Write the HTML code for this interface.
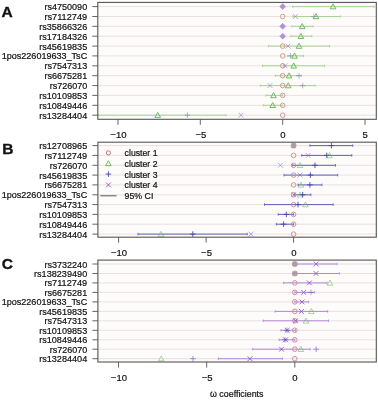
<!DOCTYPE html><html><head><meta charset="utf-8"><style>html,body{margin:0;padding:0;background:#fff;}svg{display:block;filter:blur(0.3px);}</style></head><body>
<svg width="378" height="400" viewBox="0 0 378 400" font-family='"Liberation Sans", sans-serif'>
<rect width="378" height="400" fill="#ffffff"/>
<rect x="97.8" y="2.4" width="278.5" height="116.89999999999999" fill="#fefcfb"/>
<line x1="97.8" y1="6.6" x2="376.3" y2="6.6" stroke="#e6dcdc" stroke-width="0.9"/>
<line x1="97.8" y1="16.5" x2="376.3" y2="16.5" stroke="#e6dcdc" stroke-width="0.9"/>
<line x1="97.8" y1="26.3" x2="376.3" y2="26.3" stroke="#e6dcdc" stroke-width="0.9"/>
<line x1="97.8" y1="36.2" x2="376.3" y2="36.2" stroke="#e6dcdc" stroke-width="0.9"/>
<line x1="97.8" y1="46.1" x2="376.3" y2="46.1" stroke="#e6dcdc" stroke-width="0.9"/>
<line x1="97.8" y1="55.9" x2="376.3" y2="55.9" stroke="#e6dcdc" stroke-width="0.9"/>
<line x1="97.8" y1="65.8" x2="376.3" y2="65.8" stroke="#e6dcdc" stroke-width="0.9"/>
<line x1="97.8" y1="75.7" x2="376.3" y2="75.7" stroke="#e6dcdc" stroke-width="0.9"/>
<line x1="97.8" y1="85.6" x2="376.3" y2="85.6" stroke="#e6dcdc" stroke-width="0.9"/>
<line x1="97.8" y1="95.4" x2="376.3" y2="95.4" stroke="#e6dcdc" stroke-width="0.9"/>
<line x1="97.8" y1="105.3" x2="376.3" y2="105.3" stroke="#e6dcdc" stroke-width="0.9"/>
<line x1="97.8" y1="115.2" x2="376.3" y2="115.2" stroke="#e6dcdc" stroke-width="0.9"/>
<line x1="292.7" y1="6.6" x2="374.0" y2="6.6" stroke="#a2d694" stroke-width="0.95"/>
<path d="M292.7,5.3 V7.9 M374.0,5.3 V7.9" stroke="#a2d694" stroke-width="0.8"/>
<path d="M279.7,6.6 L282.7,3.6 L285.7,6.6 L282.7,9.6 Z" fill="#ae92d6" stroke="#ae92d6" stroke-width="0.6" stroke-linejoin="round"/>
<path d="M330.2,8.8 L333.0,3.8 L335.8,8.8 Z" fill="none" stroke="#62b452" stroke-width="0.9" opacity="1"/>
<line x1="292.7" y1="16.5" x2="340.4" y2="16.5" stroke="#a2d694" stroke-width="0.95"/>
<path d="M292.7,15.2 V17.8 M340.4,15.2 V17.8" stroke="#a2d694" stroke-width="0.8"/>
<circle cx="282.7" cy="16.5" r="2.3" fill="none" stroke="#cc9c90" stroke-width="1.0" opacity="1"/>
<path d="M293.0,14.1 L297.8,18.9 M293.0,18.9 L297.8,14.1" stroke="#8c58cc" stroke-width="0.9" opacity="0.6"/>
<path d="M311.0,16.5 H316.6 M313.8,13.7 V19.3" stroke="#6a7aa0" stroke-width="0.9" opacity="0.5"/>
<path d="M313.2,18.7 L316.0,13.7 L318.8,18.7 Z" fill="none" stroke="#62b452" stroke-width="0.9" opacity="1"/>
<line x1="291.9" y1="26.3" x2="313.1" y2="26.3" stroke="#a2d694" stroke-width="0.95"/>
<path d="M291.9,25.0 V27.6 M313.1,25.0 V27.6" stroke="#a2d694" stroke-width="0.8"/>
<path d="M279.7,26.3 L282.7,23.3 L285.7,26.3 L282.7,29.3 Z" fill="#ae92d6" stroke="#ae92d6" stroke-width="0.6" stroke-linejoin="round"/>
<path d="M299.4,28.6 L302.2,23.5 L305.0,28.6 Z" fill="none" stroke="#62b452" stroke-width="0.9" opacity="1"/>
<line x1="290.8" y1="36.2" x2="311.8" y2="36.2" stroke="#a2d694" stroke-width="0.95"/>
<path d="M290.8,34.9 V37.5 M311.8,34.9 V37.5" stroke="#a2d694" stroke-width="0.8"/>
<path d="M279.7,36.2 L282.7,33.2 L285.7,36.2 L282.7,39.2 Z" fill="#ae92d6" stroke="#ae92d6" stroke-width="0.6" stroke-linejoin="round"/>
<path d="M298.1,38.5 L300.9,33.4 L303.7,38.5 Z" fill="none" stroke="#62b452" stroke-width="0.9" opacity="1"/>
<line x1="268.4" y1="46.1" x2="329.5" y2="46.1" stroke="#a2d694" stroke-width="0.95"/>
<path d="M268.4,44.8 V47.4 M329.5,44.8 V47.4" stroke="#a2d694" stroke-width="0.8"/>
<circle cx="282.7" cy="46.1" r="2.3" fill="none" stroke="#cc9c90" stroke-width="1.0" opacity="1"/>
<path d="M285.6,43.7 L290.4,48.5 M285.6,48.5 L290.4,43.7" stroke="#8c58cc" stroke-width="0.9" opacity="0.6"/>
<path d="M296.2,48.3 L299.0,43.3 L301.8,48.3 Z" fill="none" stroke="#62b452" stroke-width="0.9" opacity="1"/>
<line x1="287.7" y1="55.9" x2="303.5" y2="55.9" stroke="#a2d694" stroke-width="0.95"/>
<path d="M287.7,54.6 V57.2 M303.5,54.6 V57.2" stroke="#a2d694" stroke-width="0.8"/>
<circle cx="282.7" cy="55.9" r="2.3" fill="none" stroke="#cc9c90" stroke-width="1.0" opacity="1"/>
<path d="M287.7,55.9 H293.3 M290.5,53.1 V58.7" stroke="#6a7aa0" stroke-width="0.9" opacity="0.6"/>
<path d="M291.7,58.2 L294.5,53.1 L297.3,58.2 Z" fill="none" stroke="#62b452" stroke-width="0.9" opacity="1"/>
<line x1="262.6" y1="65.8" x2="324.5" y2="65.8" stroke="#a2d694" stroke-width="0.95"/>
<path d="M262.6,64.5 V67.1 M324.5,64.5 V67.1" stroke="#a2d694" stroke-width="0.8"/>
<circle cx="282.7" cy="65.8" r="2.3" fill="none" stroke="#cc9c90" stroke-width="1.0" opacity="1"/>
<path d="M282.6,63.4 L287.4,68.2 M282.6,68.2 L287.4,63.4" stroke="#8c58cc" stroke-width="0.9" opacity="0.6"/>
<path d="M290.9,68.1 L293.7,63.0 L296.5,68.1 Z" fill="none" stroke="#62b452" stroke-width="0.9" opacity="1"/>
<line x1="275.4" y1="75.7" x2="301.3" y2="75.7" stroke="#a2d694" stroke-width="0.95"/>
<path d="M275.4,74.4 V77.0 M301.3,74.4 V77.0" stroke="#a2d694" stroke-width="0.8"/>
<circle cx="282.7" cy="75.7" r="2.3" fill="none" stroke="#cc9c90" stroke-width="1.0" opacity="1"/>
<path d="M286.2,77.9 L289.0,72.9 L291.8,77.9 Z" fill="none" stroke="#62b452" stroke-width="0.9" opacity="1"/>
<path d="M296.2,75.7 H301.8 M299.0,72.9 V78.5" stroke="#6a7aa0" stroke-width="0.9" opacity="0.6"/>
<line x1="260.4" y1="85.6" x2="315.0" y2="85.6" stroke="#a2d694" stroke-width="0.95"/>
<path d="M260.4,84.3 V86.9 M315.0,84.3 V86.9" stroke="#a2d694" stroke-width="0.8"/>
<circle cx="282.7" cy="85.6" r="2.3" fill="none" stroke="#cc9c90" stroke-width="1.0" opacity="1"/>
<path d="M267.6,83.2 L272.4,88.0 M267.6,88.0 L272.4,83.2" stroke="#8c58cc" stroke-width="0.9" opacity="0.6"/>
<path d="M285.4,87.8 L288.2,82.8 L291.0,87.8 Z" fill="none" stroke="#62b452" stroke-width="0.9" opacity="1"/>
<path d="M299.9,85.6 H305.5 M302.7,82.8 V88.4" stroke="#6a7aa0" stroke-width="0.9" opacity="0.6"/>
<line x1="266.0" y1="95.4" x2="282.7" y2="95.4" stroke="#a2d694" stroke-width="0.95"/>
<path d="M266.0,94.1 V96.7 M282.7,94.1 V96.7" stroke="#a2d694" stroke-width="0.8"/>
<circle cx="282.7" cy="95.4" r="2.3" fill="none" stroke="#cc9c90" stroke-width="1.0" opacity="1"/>
<path d="M270.7,97.7 L273.5,92.6 L276.3,97.7 Z" fill="none" stroke="#62b452" stroke-width="0.9" opacity="1"/>
<line x1="263.2" y1="105.3" x2="282.7" y2="105.3" stroke="#a2d694" stroke-width="0.95"/>
<path d="M263.2,104.0 V106.6 M282.7,104.0 V106.6" stroke="#a2d694" stroke-width="0.8"/>
<circle cx="282.7" cy="105.3" r="2.3" fill="none" stroke="#cc9c90" stroke-width="1.0" opacity="1"/>
<path d="M269.9,107.5 L272.7,102.5 L275.5,107.5 Z" fill="none" stroke="#62b452" stroke-width="0.9" opacity="1"/>
<line x1="98.4" y1="115.2" x2="226.0" y2="115.2" stroke="#a2d694" stroke-width="0.95"/>
<path d="M98.4,113.9 V116.5 M226.0,113.9 V116.5" stroke="#a2d694" stroke-width="0.8"/>
<circle cx="282.7" cy="115.2" r="2.3" fill="none" stroke="#cc9c90" stroke-width="1.0" opacity="1"/>
<path d="M154.9,117.4 L157.7,112.4 L160.5,117.4 Z" fill="none" stroke="#62b452" stroke-width="0.9" opacity="1"/>
<path d="M184.6,115.2 H190.2 M187.4,112.4 V118.0" stroke="#6a7aa0" stroke-width="0.9" opacity="0.6"/>
<path d="M238.6,112.8 L243.4,117.6 M238.6,117.6 L243.4,112.8" stroke="#8c58cc" stroke-width="0.9" opacity="0.6"/>
<rect x="97.8" y="2.4" width="278.5" height="116.89999999999999" fill="none" stroke="#555555" stroke-width="1.1"/>
<line x1="92.3" y1="6.6" x2="97.8" y2="6.6" stroke="#555555" stroke-width="0.9"/>
<text x="87.2" y="10.1" font-size="9.0" text-anchor="end" fill="#111111" stroke="#111111" stroke-width="0.2" font-weight="normal" textLength="42.8" lengthAdjust="spacingAndGlyphs">rs4750090</text>
<line x1="92.3" y1="16.5" x2="97.8" y2="16.5" stroke="#555555" stroke-width="0.9"/>
<text x="87.2" y="20.0" font-size="9.0" text-anchor="end" fill="#111111" stroke="#111111" stroke-width="0.2" font-weight="normal" textLength="42.8" lengthAdjust="spacingAndGlyphs">rs7112749</text>
<line x1="92.3" y1="26.3" x2="97.8" y2="26.3" stroke="#555555" stroke-width="0.9"/>
<text x="87.2" y="29.8" font-size="9.0" text-anchor="end" fill="#111111" stroke="#111111" stroke-width="0.2" font-weight="normal" textLength="48.0" lengthAdjust="spacingAndGlyphs">rs35866326</text>
<line x1="92.3" y1="36.2" x2="97.8" y2="36.2" stroke="#555555" stroke-width="0.9"/>
<text x="87.2" y="39.7" font-size="9.0" text-anchor="end" fill="#111111" stroke="#111111" stroke-width="0.2" font-weight="normal" textLength="48.0" lengthAdjust="spacingAndGlyphs">rs17184326</text>
<line x1="92.3" y1="46.1" x2="97.8" y2="46.1" stroke="#555555" stroke-width="0.9"/>
<text x="87.2" y="49.6" font-size="9.0" text-anchor="end" fill="#111111" stroke="#111111" stroke-width="0.2" font-weight="normal" textLength="48.0" lengthAdjust="spacingAndGlyphs">rs45619835</text>
<line x1="92.3" y1="55.9" x2="97.8" y2="55.9" stroke="#555555" stroke-width="0.9"/>
<text x="87.2" y="59.4" font-size="9.0" text-anchor="end" fill="#111111" stroke="#111111" stroke-width="0.2" font-weight="normal" textLength="85.5" lengthAdjust="spacingAndGlyphs">1pos226019633_TsC</text>
<line x1="92.3" y1="65.8" x2="97.8" y2="65.8" stroke="#555555" stroke-width="0.9"/>
<text x="87.2" y="69.3" font-size="9.0" text-anchor="end" fill="#111111" stroke="#111111" stroke-width="0.2" font-weight="normal" textLength="42.8" lengthAdjust="spacingAndGlyphs">rs7547313</text>
<line x1="92.3" y1="75.7" x2="97.8" y2="75.7" stroke="#555555" stroke-width="0.9"/>
<text x="87.2" y="79.2" font-size="9.0" text-anchor="end" fill="#111111" stroke="#111111" stroke-width="0.2" font-weight="normal" textLength="42.8" lengthAdjust="spacingAndGlyphs">rs6675281</text>
<line x1="92.3" y1="85.6" x2="97.8" y2="85.6" stroke="#555555" stroke-width="0.9"/>
<text x="87.2" y="89.1" font-size="9.0" text-anchor="end" fill="#111111" stroke="#111111" stroke-width="0.2" font-weight="normal" textLength="37.5" lengthAdjust="spacingAndGlyphs">rs726070</text>
<line x1="92.3" y1="95.4" x2="97.8" y2="95.4" stroke="#555555" stroke-width="0.9"/>
<text x="87.2" y="98.9" font-size="9.0" text-anchor="end" fill="#111111" stroke="#111111" stroke-width="0.2" font-weight="normal" textLength="48.0" lengthAdjust="spacingAndGlyphs">rs10109853</text>
<line x1="92.3" y1="105.3" x2="97.8" y2="105.3" stroke="#555555" stroke-width="0.9"/>
<text x="87.2" y="108.8" font-size="9.0" text-anchor="end" fill="#111111" stroke="#111111" stroke-width="0.2" font-weight="normal" textLength="48.0" lengthAdjust="spacingAndGlyphs">rs10849446</text>
<line x1="92.3" y1="115.2" x2="97.8" y2="115.2" stroke="#555555" stroke-width="0.9"/>
<text x="87.2" y="118.7" font-size="9.0" text-anchor="end" fill="#111111" stroke="#111111" stroke-width="0.2" font-weight="normal" textLength="48.0" lengthAdjust="spacingAndGlyphs">rs13284404</text>
<line x1="118.0" y1="119.3" x2="118.0" y2="124.8" stroke="#555555" stroke-width="0.9"/>
<text x="118.4" y="138.2" font-size="9.5" text-anchor="middle" fill="#111111" stroke="#111111" stroke-width="0.2" font-weight="normal">−10</text>
<line x1="200.3" y1="119.3" x2="200.3" y2="124.8" stroke="#555555" stroke-width="0.9"/>
<text x="200.8" y="138.2" font-size="9.5" text-anchor="middle" fill="#111111" stroke="#111111" stroke-width="0.2" font-weight="normal">−5</text>
<line x1="282.7" y1="119.3" x2="282.7" y2="124.8" stroke="#555555" stroke-width="0.9"/>
<text x="282.9" y="138.2" font-size="9.5" text-anchor="middle" fill="#111111" stroke="#111111" stroke-width="0.2" font-weight="normal">0</text>
<line x1="365.0" y1="119.3" x2="365.0" y2="124.8" stroke="#555555" stroke-width="0.9"/>
<text x="365.2" y="138.2" font-size="9.5" text-anchor="middle" fill="#111111" stroke="#111111" stroke-width="0.2" font-weight="normal">5</text>
<text x="1.6" y="17.1" font-size="15.5" text-anchor="start" fill="#111" stroke="#111" stroke-width="0.35" font-weight="bold">A</text>
<rect x="97.9" y="142.2" width="278.4" height="95.0" fill="#fefcfb"/>
<line x1="97.9" y1="145.6" x2="376.3" y2="145.6" stroke="#e6dcdc" stroke-width="0.9"/>
<line x1="97.9" y1="155.4" x2="376.3" y2="155.4" stroke="#e6dcdc" stroke-width="0.9"/>
<line x1="97.9" y1="165.3" x2="376.3" y2="165.3" stroke="#e6dcdc" stroke-width="0.9"/>
<line x1="97.9" y1="175.1" x2="376.3" y2="175.1" stroke="#e6dcdc" stroke-width="0.9"/>
<line x1="97.9" y1="184.9" x2="376.3" y2="184.9" stroke="#e6dcdc" stroke-width="0.9"/>
<line x1="97.9" y1="194.8" x2="376.3" y2="194.8" stroke="#e6dcdc" stroke-width="0.9"/>
<line x1="97.9" y1="204.6" x2="376.3" y2="204.6" stroke="#e6dcdc" stroke-width="0.9"/>
<line x1="97.9" y1="214.4" x2="376.3" y2="214.4" stroke="#e6dcdc" stroke-width="0.9"/>
<line x1="97.9" y1="224.2" x2="376.3" y2="224.2" stroke="#e6dcdc" stroke-width="0.9"/>
<line x1="97.9" y1="234.1" x2="376.3" y2="234.1" stroke="#e6dcdc" stroke-width="0.9"/>
<line x1="309.9" y1="145.6" x2="352.7" y2="145.6" stroke="#5858bc" stroke-width="0.95"/>
<path d="M309.9,144.3 V146.9 M352.7,144.3 V146.9" stroke="#5858bc" stroke-width="0.8"/>
<rect x="291.3" y="143.3" width="4.6" height="4.6" rx="1.2" fill="#ab9d9d" stroke="#ab9d9d" stroke-width="0.8"/>
<path d="M328.6,145.6 H334.2 M331.4,142.8 V148.4" stroke="#4444b4" stroke-width="0.9" opacity="1"/>
<line x1="301.7" y1="155.4" x2="351.8" y2="155.4" stroke="#5858bc" stroke-width="0.95"/>
<path d="M301.7,154.1 V156.7 M351.8,154.1 V156.7" stroke="#5858bc" stroke-width="0.8"/>
<circle cx="293.6" cy="155.4" r="2.3" fill="none" stroke="#d09488" stroke-width="1.0" opacity="1"/>
<path d="M305.8,153.0 L310.6,157.8 M305.8,157.8 L310.6,153.0" stroke="#8c58cc" stroke-width="0.9" opacity="0.6"/>
<path d="M324.0,155.4 H329.6 M326.8,152.6 V158.2" stroke="#4444b4" stroke-width="0.9" opacity="1"/>
<path d="M326.7,157.7 L329.5,152.6 L332.3,157.7 Z" fill="none" stroke="#62b452" stroke-width="0.9" opacity="0.6"/>
<line x1="292.7" y1="165.3" x2="335.5" y2="165.3" stroke="#5858bc" stroke-width="0.95"/>
<path d="M292.7,164.0 V166.6 M335.5,164.0 V166.6" stroke="#5858bc" stroke-width="0.8"/>
<path d="M278.0,162.9 L282.8,167.7 M278.0,167.7 L282.8,162.9" stroke="#8c58cc" stroke-width="0.9" opacity="0.6"/>
<circle cx="293.6" cy="165.3" r="2.3" fill="none" stroke="#d09488" stroke-width="1.0" opacity="1"/>
<path d="M297.2,167.5 L300.0,162.5 L302.8,167.5 Z" fill="none" stroke="#62b452" stroke-width="0.9" opacity="0.6"/>
<path d="M312.2,165.3 H317.8 M315.0,162.5 V168.1" stroke="#4444b4" stroke-width="0.9" opacity="1"/>
<line x1="284.0" y1="175.1" x2="337.7" y2="175.1" stroke="#5858bc" stroke-width="0.95"/>
<path d="M284.0,173.8 V176.4 M337.7,173.8 V176.4" stroke="#5858bc" stroke-width="0.8"/>
<circle cx="293.6" cy="175.1" r="2.3" fill="none" stroke="#d09488" stroke-width="1.0" opacity="1"/>
<path d="M297.6,172.7 L302.4,177.5 M297.6,177.5 L302.4,172.7" stroke="#8c58cc" stroke-width="0.9" opacity="0.6"/>
<path d="M307.6,175.1 H313.2 M310.4,172.3 V177.9" stroke="#4444b4" stroke-width="0.9" opacity="1"/>
<line x1="298.0" y1="184.9" x2="321.9" y2="184.9" stroke="#5858bc" stroke-width="0.95"/>
<path d="M298.0,183.6 V186.2 M321.9,183.6 V186.2" stroke="#5858bc" stroke-width="0.8"/>
<circle cx="293.6" cy="184.9" r="2.3" fill="none" stroke="#d09488" stroke-width="1.0" opacity="1"/>
<path d="M298.1,187.2 L300.9,182.1 L303.7,187.2 Z" fill="none" stroke="#62b452" stroke-width="0.9" opacity="0.6"/>
<path d="M307.1,184.9 H312.7 M309.9,182.1 V187.7" stroke="#4444b4" stroke-width="0.9" opacity="1"/>
<line x1="294.0" y1="194.8" x2="310.9" y2="194.8" stroke="#5858bc" stroke-width="0.95"/>
<path d="M294.0,193.4 V196.1 M310.9,193.4 V196.1" stroke="#5858bc" stroke-width="0.8"/>
<circle cx="293.6" cy="194.8" r="2.3" fill="none" stroke="#d09488" stroke-width="1.0" opacity="1"/>
<path d="M291.2,192.3 L296.0,197.2 M291.2,197.2 L296.0,192.3" stroke="#8c58cc" stroke-width="0.9" opacity="0.6"/>
<path d="M297.2,197.0 L300.0,191.9 L302.8,197.0 Z" fill="none" stroke="#62b452" stroke-width="0.9" opacity="0.5"/>
<path d="M299.9,194.8 H305.5 M302.7,191.9 V197.6" stroke="#4444b4" stroke-width="0.9" opacity="1"/>
<line x1="264.5" y1="204.6" x2="333.2" y2="204.6" stroke="#5858bc" stroke-width="0.95"/>
<path d="M264.5,203.3 V205.9 M333.2,203.3 V205.9" stroke="#5858bc" stroke-width="0.8"/>
<circle cx="293.6" cy="204.6" r="2.3" fill="none" stroke="#d09488" stroke-width="1.0" opacity="1"/>
<path d="M295.2,204.6 H300.8 M298.0,201.8 V207.4" stroke="#4444b4" stroke-width="0.9" opacity="1"/>
<path d="M302.6,206.8 L305.4,201.8 L308.2,206.8 Z" fill="none" stroke="#62b452" stroke-width="0.9" opacity="0.6"/>
<line x1="278.2" y1="214.4" x2="293.6" y2="214.4" stroke="#5858bc" stroke-width="0.95"/>
<path d="M278.2,213.1 V215.7 M293.6,213.1 V215.7" stroke="#5858bc" stroke-width="0.8"/>
<circle cx="293.6" cy="214.4" r="2.3" fill="none" stroke="#d09488" stroke-width="1.0" opacity="1"/>
<path d="M283.5,214.4 H289.1 M286.3,211.6 V217.2" stroke="#4444b4" stroke-width="0.9" opacity="1"/>
<line x1="276.3" y1="224.2" x2="293.6" y2="224.2" stroke="#5858bc" stroke-width="0.95"/>
<path d="M276.3,222.9 V225.5 M293.6,222.9 V225.5" stroke="#5858bc" stroke-width="0.8"/>
<circle cx="293.6" cy="224.2" r="2.3" fill="none" stroke="#d09488" stroke-width="1.0" opacity="1"/>
<path d="M280.8,224.2 H286.4 M283.6,221.4 V227.0" stroke="#4444b4" stroke-width="0.9" opacity="1"/>
<line x1="138.0" y1="234.1" x2="247.2" y2="234.1" stroke="#5858bc" stroke-width="0.95"/>
<path d="M138.0,232.8 V235.4 M247.2,232.8 V235.4" stroke="#5858bc" stroke-width="0.8"/>
<circle cx="293.6" cy="234.1" r="2.3" fill="none" stroke="#d09488" stroke-width="1.0" opacity="1"/>
<path d="M158.2,236.3 L161.0,231.3 L163.8,236.3 Z" fill="none" stroke="#62b452" stroke-width="0.9" opacity="0.6"/>
<path d="M190.0,234.1 H195.6 M192.8,231.3 V236.9" stroke="#4444b4" stroke-width="0.9" opacity="1"/>
<path d="M248.6,231.7 L253.4,236.5 M248.6,236.5 L253.4,231.7" stroke="#8c58cc" stroke-width="0.9" opacity="0.6"/>
<rect x="97.9" y="142.2" width="278.4" height="95.0" fill="none" stroke="#555555" stroke-width="1.1"/>
<line x1="92.4" y1="145.6" x2="97.9" y2="145.6" stroke="#555555" stroke-width="0.9"/>
<text x="87.2" y="149.1" font-size="9.0" text-anchor="end" fill="#111111" stroke="#111111" stroke-width="0.2" font-weight="normal" textLength="48.0" lengthAdjust="spacingAndGlyphs">rs12708965</text>
<line x1="92.4" y1="155.4" x2="97.9" y2="155.4" stroke="#555555" stroke-width="0.9"/>
<text x="87.2" y="158.9" font-size="9.0" text-anchor="end" fill="#111111" stroke="#111111" stroke-width="0.2" font-weight="normal" textLength="42.8" lengthAdjust="spacingAndGlyphs">rs7112749</text>
<line x1="92.4" y1="165.3" x2="97.9" y2="165.3" stroke="#555555" stroke-width="0.9"/>
<text x="87.2" y="168.8" font-size="9.0" text-anchor="end" fill="#111111" stroke="#111111" stroke-width="0.2" font-weight="normal" textLength="37.5" lengthAdjust="spacingAndGlyphs">rs726070</text>
<line x1="92.4" y1="175.1" x2="97.9" y2="175.1" stroke="#555555" stroke-width="0.9"/>
<text x="87.2" y="178.6" font-size="9.0" text-anchor="end" fill="#111111" stroke="#111111" stroke-width="0.2" font-weight="normal" textLength="48.0" lengthAdjust="spacingAndGlyphs">rs45619835</text>
<line x1="92.4" y1="184.9" x2="97.9" y2="184.9" stroke="#555555" stroke-width="0.9"/>
<text x="87.2" y="188.4" font-size="9.0" text-anchor="end" fill="#111111" stroke="#111111" stroke-width="0.2" font-weight="normal" textLength="42.8" lengthAdjust="spacingAndGlyphs">rs6675281</text>
<line x1="92.4" y1="194.8" x2="97.9" y2="194.8" stroke="#555555" stroke-width="0.9"/>
<text x="87.2" y="198.2" font-size="9.0" text-anchor="end" fill="#111111" stroke="#111111" stroke-width="0.2" font-weight="normal" textLength="85.5" lengthAdjust="spacingAndGlyphs">1pos226019633_TsC</text>
<line x1="92.4" y1="204.6" x2="97.9" y2="204.6" stroke="#555555" stroke-width="0.9"/>
<text x="87.2" y="208.1" font-size="9.0" text-anchor="end" fill="#111111" stroke="#111111" stroke-width="0.2" font-weight="normal" textLength="42.8" lengthAdjust="spacingAndGlyphs">rs7547313</text>
<line x1="92.4" y1="214.4" x2="97.9" y2="214.4" stroke="#555555" stroke-width="0.9"/>
<text x="87.2" y="217.9" font-size="9.0" text-anchor="end" fill="#111111" stroke="#111111" stroke-width="0.2" font-weight="normal" textLength="48.0" lengthAdjust="spacingAndGlyphs">rs10109853</text>
<line x1="92.4" y1="224.2" x2="97.9" y2="224.2" stroke="#555555" stroke-width="0.9"/>
<text x="87.2" y="227.7" font-size="9.0" text-anchor="end" fill="#111111" stroke="#111111" stroke-width="0.2" font-weight="normal" textLength="48.0" lengthAdjust="spacingAndGlyphs">rs10849446</text>
<line x1="92.4" y1="234.1" x2="97.9" y2="234.1" stroke="#555555" stroke-width="0.9"/>
<text x="87.2" y="237.6" font-size="9.0" text-anchor="end" fill="#111111" stroke="#111111" stroke-width="0.2" font-weight="normal" textLength="48.0" lengthAdjust="spacingAndGlyphs">rs13284404</text>
<line x1="118.6" y1="237.2" x2="118.6" y2="242.7" stroke="#555555" stroke-width="0.9"/>
<text x="119.0" y="256.1" font-size="9.5" text-anchor="middle" fill="#111111" stroke="#111111" stroke-width="0.2" font-weight="normal">−10</text>
<line x1="206.1" y1="237.2" x2="206.1" y2="242.7" stroke="#555555" stroke-width="0.9"/>
<text x="206.5" y="256.1" font-size="9.5" text-anchor="middle" fill="#111111" stroke="#111111" stroke-width="0.2" font-weight="normal">−5</text>
<line x1="293.6" y1="237.2" x2="293.6" y2="242.7" stroke="#555555" stroke-width="0.9"/>
<text x="293.8" y="256.1" font-size="9.5" text-anchor="middle" fill="#111111" stroke="#111111" stroke-width="0.2" font-weight="normal">0</text>
<text x="2.2" y="154.0" font-size="15.5" text-anchor="start" fill="#111" stroke="#111" stroke-width="0.35" font-weight="bold">B</text>
<circle cx="108.4" cy="152.9" r="2.1" fill="none" stroke="#c47878" stroke-width="1.0" opacity="1"/>
<path d="M105.6,165.7 L108.4,160.7 L111.2,165.7 Z" fill="none" stroke="#62b452" stroke-width="0.9" opacity="1"/>
<path d="M105.6,174.1 H111.2 M108.4,171.3 V176.9" stroke="#4444b4" stroke-width="0.9" opacity="1"/>
<path d="M106.0,182.5 L110.8,187.3 M106.0,187.3 L110.8,182.5" stroke="#8c58cc" stroke-width="0.9" opacity="1"/>
<line x1="100.2" y1="195.8" x2="116.6" y2="195.8" stroke="#666" stroke-width="1.1"/>
<text x="124.6" y="156.0" font-size="8.3" text-anchor="start" fill="#111111" stroke="#111111" stroke-width="0.2" font-weight="normal" textLength="32.9" lengthAdjust="spacingAndGlyphs">cluster 1</text>
<text x="124.6" y="166.8" font-size="8.3" text-anchor="start" fill="#111111" stroke="#111111" stroke-width="0.2" font-weight="normal" textLength="32.9" lengthAdjust="spacingAndGlyphs">cluster 2</text>
<text x="124.6" y="177.6" font-size="8.3" text-anchor="start" fill="#111111" stroke="#111111" stroke-width="0.2" font-weight="normal" textLength="32.9" lengthAdjust="spacingAndGlyphs">cluster 3</text>
<text x="124.6" y="188.3" font-size="8.3" text-anchor="start" fill="#111111" stroke="#111111" stroke-width="0.2" font-weight="normal" textLength="32.9" lengthAdjust="spacingAndGlyphs">cluster 4</text>
<text x="124.6" y="199.0" font-size="8.3" text-anchor="start" fill="#111111" stroke="#111111" stroke-width="0.2" font-weight="normal" textLength="28.8" lengthAdjust="spacingAndGlyphs">95% CI</text>
<rect x="97.9" y="260.1" width="278.4" height="101.89999999999998" fill="#fefcfb"/>
<line x1="97.9" y1="264.0" x2="376.3" y2="264.0" stroke="#e6dcdc" stroke-width="0.9"/>
<line x1="97.9" y1="273.5" x2="376.3" y2="273.5" stroke="#e6dcdc" stroke-width="0.9"/>
<line x1="97.9" y1="282.9" x2="376.3" y2="282.9" stroke="#e6dcdc" stroke-width="0.9"/>
<line x1="97.9" y1="292.4" x2="376.3" y2="292.4" stroke="#e6dcdc" stroke-width="0.9"/>
<line x1="97.9" y1="301.9" x2="376.3" y2="301.9" stroke="#e6dcdc" stroke-width="0.9"/>
<line x1="97.9" y1="311.4" x2="376.3" y2="311.4" stroke="#e6dcdc" stroke-width="0.9"/>
<line x1="97.9" y1="320.8" x2="376.3" y2="320.8" stroke="#e6dcdc" stroke-width="0.9"/>
<line x1="97.9" y1="330.3" x2="376.3" y2="330.3" stroke="#e6dcdc" stroke-width="0.9"/>
<line x1="97.9" y1="339.8" x2="376.3" y2="339.8" stroke="#e6dcdc" stroke-width="0.9"/>
<line x1="97.9" y1="349.2" x2="376.3" y2="349.2" stroke="#e6dcdc" stroke-width="0.9"/>
<line x1="97.9" y1="358.7" x2="376.3" y2="358.7" stroke="#e6dcdc" stroke-width="0.9"/>
<line x1="294.8" y1="264.0" x2="337.0" y2="264.0" stroke="#b084de" stroke-width="0.95"/>
<path d="M294.8,262.7 V265.3 M337.0,262.7 V265.3" stroke="#b084de" stroke-width="0.8"/>
<rect x="292.5" y="261.7" width="4.6" height="4.6" rx="1.2" fill="#ab9d9d" stroke="#ab9d9d" stroke-width="0.8"/>
<path d="M313.8,261.6 L318.6,266.4 M313.8,266.4 L318.6,261.6" stroke="#8c58cc" stroke-width="0.9" opacity="1"/>
<line x1="294.8" y1="273.5" x2="339.3" y2="273.5" stroke="#b084de" stroke-width="0.95"/>
<path d="M294.8,272.2 V274.8 M339.3,272.2 V274.8" stroke="#b084de" stroke-width="0.8"/>
<rect x="292.5" y="271.2" width="4.6" height="4.6" rx="1.2" fill="#ab9d9d" stroke="#ab9d9d" stroke-width="0.8"/>
<path d="M313.6,271.1 L318.4,275.9 M313.6,275.9 L318.4,271.1" stroke="#8c58cc" stroke-width="0.9" opacity="1"/>
<line x1="283.7" y1="282.9" x2="327.0" y2="282.9" stroke="#b084de" stroke-width="0.95"/>
<path d="M283.7,281.6 V284.2 M327.0,281.6 V284.2" stroke="#b084de" stroke-width="0.8"/>
<circle cx="294.8" cy="282.9" r="2.3" fill="none" stroke="#cc8aa4" stroke-width="1.0" opacity="1"/>
<path d="M307.0,280.5 L311.8,285.3 M307.0,285.3 L311.8,280.5" stroke="#8c58cc" stroke-width="0.9" opacity="1"/>
<path d="M327.2,285.2 L330.0,280.1 L332.8,285.2 Z" fill="none" stroke="#62b452" stroke-width="0.9" opacity="0.6"/>
<line x1="294.8" y1="292.4" x2="314.3" y2="292.4" stroke="#b084de" stroke-width="0.95"/>
<path d="M294.8,291.1 V293.7 M314.3,291.1 V293.7" stroke="#b084de" stroke-width="0.8"/>
<circle cx="294.8" cy="292.4" r="2.3" fill="none" stroke="#cc8aa4" stroke-width="1.0" opacity="1"/>
<path d="M301.3,290.0 L306.1,294.8 M301.3,294.8 L306.1,290.0" stroke="#8c58cc" stroke-width="0.9" opacity="1"/>
<path d="M308.2,292.4 H313.8 M311.0,289.6 V295.2" stroke="#4444b4" stroke-width="0.9" opacity="0.5"/>
<line x1="294.8" y1="301.9" x2="308.6" y2="301.9" stroke="#b084de" stroke-width="0.95"/>
<path d="M294.8,300.6 V303.2 M308.6,300.6 V303.2" stroke="#b084de" stroke-width="0.8"/>
<circle cx="294.8" cy="301.9" r="2.3" fill="none" stroke="#cc8aa4" stroke-width="1.0" opacity="1"/>
<path d="M299.6,299.5 L304.4,304.3 M299.6,304.3 L304.4,299.5" stroke="#8c58cc" stroke-width="0.9" opacity="1"/>
<line x1="275.1" y1="311.4" x2="327.7" y2="311.4" stroke="#b084de" stroke-width="0.95"/>
<path d="M275.1,310.1 V312.7 M327.7,310.1 V312.7" stroke="#b084de" stroke-width="0.8"/>
<circle cx="294.8" cy="311.4" r="2.3" fill="none" stroke="#cc8aa4" stroke-width="1.0" opacity="1"/>
<path d="M299.0,309.0 L303.8,313.8 M299.0,313.8 L303.8,309.0" stroke="#8c58cc" stroke-width="0.9" opacity="1"/>
<path d="M308.6,313.6 L311.4,308.6 L314.2,313.6 Z" fill="none" stroke="#62b452" stroke-width="0.9" opacity="0.6"/>
<line x1="263.3" y1="320.8" x2="328.6" y2="320.8" stroke="#b084de" stroke-width="0.95"/>
<path d="M263.3,319.5 V322.1 M328.6,319.5 V322.1" stroke="#b084de" stroke-width="0.8"/>
<circle cx="294.8" cy="320.8" r="2.3" fill="none" stroke="#cc8aa4" stroke-width="1.0" opacity="1"/>
<path d="M293.2,318.4 L298.0,323.2 M293.2,323.2 L298.0,318.4" stroke="#8c58cc" stroke-width="0.9" opacity="1"/>
<path d="M303.2,323.1 L306.0,318.0 L308.8,323.1 Z" fill="none" stroke="#62b452" stroke-width="0.9" opacity="0.6"/>
<line x1="281.0" y1="330.3" x2="295.5" y2="330.3" stroke="#b084de" stroke-width="0.95"/>
<path d="M281.0,329.0 V331.6 M295.5,329.0 V331.6" stroke="#b084de" stroke-width="0.8"/>
<circle cx="294.8" cy="330.3" r="2.3" fill="none" stroke="#cc8aa4" stroke-width="1.0" opacity="1"/>
<path d="M284.7,327.9 L289.5,332.7 M284.7,332.7 L289.5,327.9" stroke="#8c58cc" stroke-width="0.9" opacity="1"/>
<path d="M284.2,330.3 H289.8 M287.0,327.5 V333.1" stroke="#4444b4" stroke-width="0.9" opacity="0.6"/>
<line x1="279.2" y1="339.8" x2="294.8" y2="339.8" stroke="#b084de" stroke-width="0.95"/>
<path d="M279.2,338.5 V341.1 M294.8,338.5 V341.1" stroke="#b084de" stroke-width="0.8"/>
<circle cx="294.8" cy="339.8" r="2.3" fill="none" stroke="#cc8aa4" stroke-width="1.0" opacity="1"/>
<path d="M283.1,337.4 L287.9,342.2 M283.1,342.2 L287.9,337.4" stroke="#8c58cc" stroke-width="0.9" opacity="1"/>
<path d="M282.2,339.8 H287.8 M285.0,337.0 V342.6" stroke="#4444b4" stroke-width="0.9" opacity="0.6"/>
<line x1="252.7" y1="349.2" x2="310.1" y2="349.2" stroke="#b084de" stroke-width="0.95"/>
<path d="M252.7,347.9 V350.5 M310.1,347.9 V350.5" stroke="#b084de" stroke-width="0.8"/>
<circle cx="294.8" cy="349.2" r="2.3" fill="none" stroke="#cc8aa4" stroke-width="1.0" opacity="1"/>
<path d="M279.1,346.8 L283.9,351.6 M279.1,351.6 L283.9,346.8" stroke="#8c58cc" stroke-width="0.9" opacity="1"/>
<path d="M298.0,351.5 L300.8,346.4 L303.6,351.5 Z" fill="none" stroke="#62b452" stroke-width="0.9" opacity="0.6"/>
<path d="M313.4,349.2 H319.0 M316.2,346.4 V352.0" stroke="#4444b4" stroke-width="0.9" opacity="0.6"/>
<line x1="218.4" y1="358.7" x2="282.3" y2="358.7" stroke="#b084de" stroke-width="0.95"/>
<path d="M218.4,357.4 V360.0 M282.3,357.4 V360.0" stroke="#b084de" stroke-width="0.8"/>
<circle cx="294.8" cy="358.7" r="2.3" fill="none" stroke="#cc8aa4" stroke-width="1.0" opacity="1"/>
<path d="M247.6,356.3 L252.4,361.1 M247.6,361.1 L252.4,356.3" stroke="#8c58cc" stroke-width="0.9" opacity="1"/>
<path d="M158.4,360.9 L161.2,355.9 L164.0,360.9 Z" fill="none" stroke="#62b452" stroke-width="0.9" opacity="0.6"/>
<path d="M190.2,358.7 H195.8 M193.0,355.9 V361.5" stroke="#4444b4" stroke-width="0.9" opacity="0.6"/>
<rect x="97.9" y="260.1" width="278.4" height="101.89999999999998" fill="none" stroke="#555555" stroke-width="1.1"/>
<line x1="92.4" y1="264.0" x2="97.9" y2="264.0" stroke="#555555" stroke-width="0.9"/>
<text x="87.2" y="267.5" font-size="9.0" text-anchor="end" fill="#111111" stroke="#111111" stroke-width="0.2" font-weight="normal" textLength="42.8" lengthAdjust="spacingAndGlyphs">rs3732240</text>
<line x1="92.4" y1="273.5" x2="97.9" y2="273.5" stroke="#555555" stroke-width="0.9"/>
<text x="87.2" y="277.0" font-size="9.0" text-anchor="end" fill="#111111" stroke="#111111" stroke-width="0.2" font-weight="normal" textLength="53.2" lengthAdjust="spacingAndGlyphs">rs138239490</text>
<line x1="92.4" y1="282.9" x2="97.9" y2="282.9" stroke="#555555" stroke-width="0.9"/>
<text x="87.2" y="286.4" font-size="9.0" text-anchor="end" fill="#111111" stroke="#111111" stroke-width="0.2" font-weight="normal" textLength="42.8" lengthAdjust="spacingAndGlyphs">rs7112749</text>
<line x1="92.4" y1="292.4" x2="97.9" y2="292.4" stroke="#555555" stroke-width="0.9"/>
<text x="87.2" y="295.9" font-size="9.0" text-anchor="end" fill="#111111" stroke="#111111" stroke-width="0.2" font-weight="normal" textLength="42.8" lengthAdjust="spacingAndGlyphs">rs6675281</text>
<line x1="92.4" y1="301.9" x2="97.9" y2="301.9" stroke="#555555" stroke-width="0.9"/>
<text x="87.2" y="305.4" font-size="9.0" text-anchor="end" fill="#111111" stroke="#111111" stroke-width="0.2" font-weight="normal" textLength="85.5" lengthAdjust="spacingAndGlyphs">1pos226019633_TsC</text>
<line x1="92.4" y1="311.4" x2="97.9" y2="311.4" stroke="#555555" stroke-width="0.9"/>
<text x="87.2" y="314.9" font-size="9.0" text-anchor="end" fill="#111111" stroke="#111111" stroke-width="0.2" font-weight="normal" textLength="48.0" lengthAdjust="spacingAndGlyphs">rs45619835</text>
<line x1="92.4" y1="320.8" x2="97.9" y2="320.8" stroke="#555555" stroke-width="0.9"/>
<text x="87.2" y="324.3" font-size="9.0" text-anchor="end" fill="#111111" stroke="#111111" stroke-width="0.2" font-weight="normal" textLength="42.8" lengthAdjust="spacingAndGlyphs">rs7547313</text>
<line x1="92.4" y1="330.3" x2="97.9" y2="330.3" stroke="#555555" stroke-width="0.9"/>
<text x="87.2" y="333.8" font-size="9.0" text-anchor="end" fill="#111111" stroke="#111111" stroke-width="0.2" font-weight="normal" textLength="48.0" lengthAdjust="spacingAndGlyphs">rs10109853</text>
<line x1="92.4" y1="339.8" x2="97.9" y2="339.8" stroke="#555555" stroke-width="0.9"/>
<text x="87.2" y="343.3" font-size="9.0" text-anchor="end" fill="#111111" stroke="#111111" stroke-width="0.2" font-weight="normal" textLength="48.0" lengthAdjust="spacingAndGlyphs">rs10849446</text>
<line x1="92.4" y1="349.2" x2="97.9" y2="349.2" stroke="#555555" stroke-width="0.9"/>
<text x="87.2" y="352.7" font-size="9.0" text-anchor="end" fill="#111111" stroke="#111111" stroke-width="0.2" font-weight="normal" textLength="37.5" lengthAdjust="spacingAndGlyphs">rs726070</text>
<line x1="92.4" y1="358.7" x2="97.9" y2="358.7" stroke="#555555" stroke-width="0.9"/>
<text x="87.2" y="362.2" font-size="9.0" text-anchor="end" fill="#111111" stroke="#111111" stroke-width="0.2" font-weight="normal" textLength="48.0" lengthAdjust="spacingAndGlyphs">rs13284404</text>
<line x1="118.5" y1="362.0" x2="118.5" y2="367.5" stroke="#555555" stroke-width="0.9"/>
<text x="118.9" y="380.9" font-size="9.5" text-anchor="middle" fill="#111111" stroke="#111111" stroke-width="0.2" font-weight="normal">−10</text>
<line x1="206.7" y1="362.0" x2="206.7" y2="367.5" stroke="#555555" stroke-width="0.9"/>
<text x="207.1" y="380.9" font-size="9.5" text-anchor="middle" fill="#111111" stroke="#111111" stroke-width="0.2" font-weight="normal">−5</text>
<line x1="294.8" y1="362.0" x2="294.8" y2="367.5" stroke="#555555" stroke-width="0.9"/>
<text x="295.0" y="380.9" font-size="9.5" text-anchor="middle" fill="#111111" stroke="#111111" stroke-width="0.2" font-weight="normal">0</text>
<text x="1.8" y="269.4" font-size="15.5" text-anchor="start" fill="#111" stroke="#111" stroke-width="0.35" font-weight="bold">C</text>
<text x="210.0" y="397.4" font-size="8.6" text-anchor="start" fill="#111111" stroke="#111111" stroke-width="0.2" font-weight="normal" textLength="53.5" lengthAdjust="spacingAndGlyphs">ω coefficients</text>
</svg></body></html>
